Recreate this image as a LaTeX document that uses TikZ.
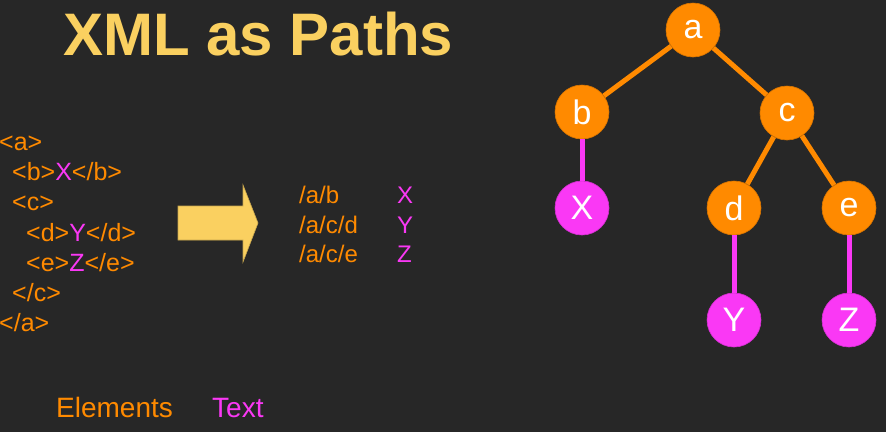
\documentclass[tikz,border=0pt]{standalone}
\usepackage{fontspec}
\setmainfont{Liberation Sans}
\usetikzlibrary{positioning}

\definecolor{bg}{HTML}{272727}
\definecolor{elemcol}{HTML}{FF8A00}
\definecolor{textcol}{HTML}{FA38F5}
\definecolor{titlecol}{HTML}{FAD060}

\begin{document}
\begin{tikzpicture}[x=1pt, y=-1pt, on grid,
    elem/.style={circle, fill=elemcol, draw=elemcol!85!black, line width=0.6pt, minimum size=54pt, inner sep=0pt, text=white, font=\fontsize{34}{34}\selectfont},
    leaf/.style={elem, fill=textcol, draw=textcol!85!black},
    code/.style={anchor=base west, inner sep=0pt, text=elemcol, font=\fontsize{25}{30}\selectfont},
    path/.style={code, font=\fontsize{24}{29}\selectfont},
    branch/.style={draw=elemcol, line width=5pt},
    twig/.style={draw=textcol, line width=5pt}]

    \fill[bg] (0,0) rectangle (886,432);
    \useasboundingbox (0,0) rectangle (886,432);

    % Title

    \node[anchor=base west, inner sep=0pt, text=titlecol, font=\fontsize{60}{60}\selectfont\bfseries] (title) at (63,55) {XML as Paths};

    % Document

    \node[code] (l1) at (-1,150) {<a>};
    \node[code] (l2) at (12,180) {<b>\textcolor{textcol}{X}</b>};
    \node[code] (l3) at (12,210) {<c>};
    \node[code] (l4) at (26,241) {<d>\textcolor{textcol}{Y}</d>};
    \node[code] (l5) at (26,271) {<e>\textcolor{textcol}{Z}</e>};
    \node[code] (l6) at (12,301) {</c>};
    \node[code] (l7) at (-1,331) {</a>};

    % Arrow

    \filldraw[fill=titlecol, draw=titlecol!80!black, line width=0.6pt]
        (178,206) -- (243,206) -- (243,185) -- (258,223) -- (243,262) -- (243,240) -- (178,240) -- cycle;

    % Paths

    \node[path] (p1) at (299,203) {/a/b};
    \node[path] (p2) at (299,233) {/a/c/d};
    \node[path] (p3) at (299,262) {/a/c/e};
    \node[path, text=textcol] (v1) at (397,203) {X};
    \node[path, text=textcol] (v2) at (397,233) {Y};
    \node[path, text=textcol] (v3) at (397,262) {Z};

    % Legend

    \node[code, font=\fontsize{28}{28}\selectfont] (kelem) at (56,417) {Elements};
    \node[code, font=\fontsize{28}{28}\selectfont, text=textcol] (ktext) at (212,417) {Text};

    % Tree

    \node[elem] (a) at (693,30) {a};
    \node[elem, below left=82pt and 111pt of a] (b) {b};
    \node[elem, below right=83pt and 94pt of a] (c) {c};
    \node[leaf, below=96pt of b] (x) {X};
    \node[elem, below left=95pt and 53pt of c] (d) {d};
    \node[elem, below right=95pt and 62pt of c] (e) {e};
    \node[leaf, below=112pt of d] (y) {Y};
    \node[leaf, below=112pt of e] (z) {Z};

    % Edges

    \draw[branch] (a) -- (b);
    \draw[branch] (a) -- (c);
    \draw[branch] (c) -- (d);
    \draw[branch] (c) -- (e);
    \draw[twig] (b) -- (x);
    \draw[twig] (d) -- (y);
    \draw[twig] (e) -- (z);

\end{tikzpicture}
\end{document}
